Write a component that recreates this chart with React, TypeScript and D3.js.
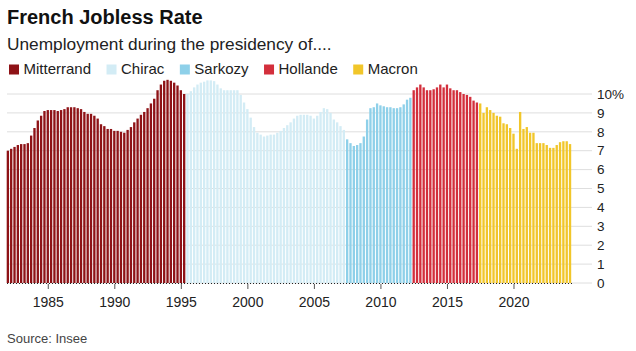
import * as d3 from "d3";

// quarterly jobless rate (%), first bar = 1982 Q1
const START_YEAR = 1982;
const mitterrand = [
  7.0, 7.1, 7.2, 7.3, 7.35, 7.35, 7.4, 7.8, 8.2, 8.6, 8.85, 9.1, 9.15, 9.15,
  9.15, 9.1, 9.15, 9.2, 9.3, 9.3, 9.3, 9.25, 9.2, 9.05, 8.95, 8.95, 8.85, 8.7,
  8.4, 8.3, 8.15, 8.15, 8.05, 8.05, 8.0, 7.95, 8.1, 8.25, 8.5, 8.7, 8.9, 9.05,
  9.25, 9.5, 9.75, 10.2, 10.5, 10.7, 10.75, 10.7, 10.6, 10.45, 10.2, 10.0,
];
const chirac = [
  10.0, 10.15, 10.35, 10.5, 10.6, 10.65, 10.72, 10.72, 10.68, 10.5, 10.3,
  10.2, 10.2, 10.2, 10.2, 10.2, 9.95, 9.55, 9.2, 8.75, 8.25, 7.95, 7.85, 7.75,
  7.8, 7.85, 7.85, 7.95, 8.05, 8.2, 8.35, 8.5, 8.7, 8.85, 8.9, 8.9, 8.9, 8.85,
  8.7, 8.85, 9.05, 9.25, 9.2, 9.0, 8.65, 8.5, 8.3, 8.1,
];
const sarkozy = [
  7.6, 7.4, 7.25, 7.3, 7.4, 7.75, 8.65, 9.25, 9.3, 9.5, 9.4, 9.35, 9.3, 9.3,
  9.25, 9.25, 9.3, 9.45, 9.7, 9.8,
];
const hollande = [
  10.2, 10.35, 10.5, 10.35, 10.2, 10.2, 10.25, 10.35, 10.5, 10.35, 10.5, 10.3,
  10.2, 10.2, 10.1, 10.0, 9.95, 9.85, 9.65, 9.55,
];
const macron = [
  9.5, 9.0, 9.3, 9.15, 9.0, 8.85, 8.8, 8.45, 8.4, 8.2, 7.9, 7.1, 9.05, 8.15,
  8.25, 7.95, 7.95, 7.4, 7.4, 7.4, 7.3, 7.15, 7.15, 7.3, 7.45, 7.5, 7.5, 7.35,
];

const presidents = [
  { name: "Mitterrand", color: "#8e1216", values: mitterrand },
  { name: "Chirac", color: "#d3ecf5", values: chirac },
  { name: "Sarkozy", color: "#8ed0e9", values: sarkozy },
  { name: "Hollande", color: "#d32f3c", values: hollande },
  { name: "Macron", color: "#f1c62a", values: macron },
];

const xTicks = [1985, 1990, 1995, 2000, 2005, 2010, 2015, 2020];
const yTicks = [0, 1, 2, 3, 4, 5, 6, 7, 8, 9, 10];

const W = 636;
const H = 351;
const FONT = "'Liberation Sans', Arial, Helvetica, sans-serif";

function legendWidth(s: string) {
  // rough Arial widths at 15px
  const w: Record<string, number> = {
    M: 0.833, C: 0.722, S: 0.667, H: 0.722, i: 0.222, t: 0.278, e: 0.556,
    r: 0.333, a: 0.556, n: 0.556, d: 0.556, h: 0.556, c: 0.5, k: 0.5,
    o: 0.556, z: 0.5, y: 0.5, l: 0.222,
  };
  let sum = 0;
  for (const ch of s) sum += w[ch] ?? 0.556;
  return sum * 15;
}

export default function App() {
  const bars: { t: number; v: number; color: string }[] = [];
  let q = 0;
  presidents.forEach((p) => {
    p.values.forEach((v) => {
      bars.push({ t: START_YEAR + q / 4, v, color: p.color });
      q++;
    });
  });
  const lastT = bars[bars.length - 1].t;

  const x = d3
    .scaleLinear()
    .domain([START_YEAR - 0.125, lastT + 0.125])
    .range([6.7, 572.2]);
  const y = d3.scaleLinear().domain([0, 10]).range([283, 94]);

  // legend layout
  let lx = 9;
  const legend = presidents.map((p) => {
    const item = { ...p, x: lx };
    lx += 14.5 + legendWidth(p.name) + 15.5;
    return item;
  });

  return (
    <svg
      width={W}
      height={H}
      style={{ position: "absolute", left: 0, top: 0, background: "#fff" }}
      fontFamily={FONT}
    >
      <text x={7} y={24} fontSize={20} fontWeight="bold" fill="#111">
        French Jobless Rate
      </text>
      <text x={7} y={50} fontSize={17.3} fill="#222">
        Unemployment during the presidency of....
      </text>

      {legend.map((p) => (
        <g key={p.name}>
          <rect x={p.x} y={64.5} width={10} height={10} fill={p.color} />
          <text x={p.x + 14.5} y={74} fontSize={15} fill="#222">
            {p.name}
          </text>
        </g>
      ))}

      {/* gridlines */}
      {yTicks.map((t) => (
        <line
          key={t}
          x1={7}
          x2={592}
          y1={y(t)}
          y2={y(t)}
          stroke="#dedede"
          strokeWidth={1}
        />
      ))}
      {yTicks.map((t) => (
        <text
          key={"l" + t}
          x={597}
          y={y(t)}
          dy="0.35em"
          fontSize={13.5}
          fill="#222"
        >
          {t === 10 ? "10%" : t}
        </text>
      ))}

      {/* bars */}
      {bars.map((b, i) => {
        const x0 = x(b.t - 0.125);
        const x1 = x(b.t + 0.125);
        return (
          <rect
            key={i}
            x={x0}
            width={Math.max(0.5, x1 - x0 - 1)}
            y={y(b.v)}
            height={y(0) - y(b.v)}
            fill={b.color}
          />
        );
      })}

      {/* baseline */}
      <line
        x1={7}
        x2={572}
        y1={283.5}
        y2={283.5}
        stroke="#222"
        strokeWidth={1}
        strokeDasharray="1,2"
      />

      {/* x axis */}
      {xTicks.map((t) => (
        <g key={t}>
          <line
            x1={x(t)}
            x2={x(t)}
            y1={284}
            y2={289}
            stroke="#555"
            strokeWidth={1}
          />
          <text
            x={x(t)}
            y={307}
            fontSize={14}
            textAnchor="middle"
            fill="#222"
          >
            {t}
          </text>
        </g>
      ))}

      <text x={7} y={343} fontSize={13} fill="#444">
        Source: Insee
      </text>
    </svg>
  );
}
